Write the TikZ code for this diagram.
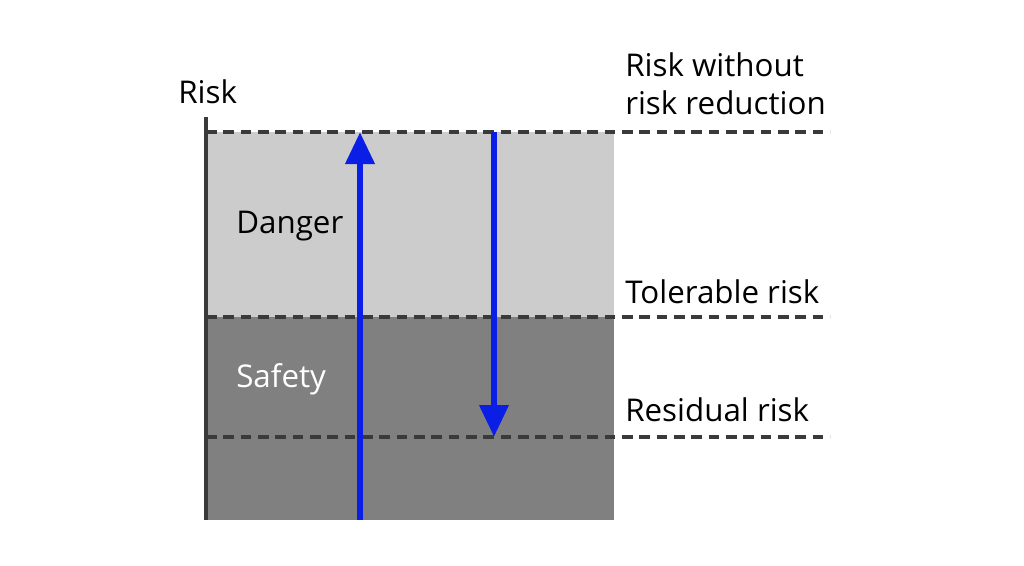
\documentclass[tikz,border=0pt]{standalone}
\usepackage{fontspec}
\setmainfont{Open Sans}
\usetikzlibrary{arrows.meta}
\definecolor{lightarea}{HTML}{CCCCCC}
\definecolor{darkarea}{HTML}{808080}
\definecolor{levelline}{HTML}{3A3A3A}
\definecolor{arrowblue}{HTML}{0A1EE6}
\begin{document}
\begin{tikzpicture} [x = 0.75pt, y = -0.75pt, font = \fontsize{23.5}{28.5}\selectfont,
  level/.style = {levelline, line width = 2.8pt, dash pattern = on 8pt off 5pt},
  reduce/.style = {arrowblue, line width = 5.2pt, -{Triangle[length = 24pt, width = 21pt]}},
  label/.style = {anchor = base west, inner sep = 0pt}]
\useasboundingbox (0,0) rectangle (1024,565);
\fill [lightarea] (206,132) rectangle (614,317);
\fill [darkarea] (206,317) rectangle (614,520);
\coordinate (top-l) at (206,132);
\coordinate (top-r) at (830,132);
\coordinate (tol-l) at (206,317);
\coordinate (tol-r) at (830,317);
\coordinate (res-l) at (206,437);
\coordinate (res-r) at (830,437);
\draw [level] (top-l) -- (top-r);
\draw [level] (tol-l) -- (tol-r);
\draw [level] (res-l) -- (res-r);
\coordinate (axis-b) at (206,520);
\coordinate (axis-t) at (206,117);
\draw [levelline, line width = 2.6pt] (axis-b) -- (axis-t);
\coordinate (up-b) at (360,520);
\coordinate (up-t) at (360,132);
\coordinate (down-t) at (494,132);
\coordinate (down-b) at (494,437);
\draw [reduce] (up-b) -- (up-t);
\draw [reduce] (down-t) -- (down-b);
\node [label] (risk) at (178,103) {Risk};
\node [label] (without) at (625,76) {Risk without};
\node [label] (reduction) at (625,114) {risk reduction};
\node [label] (danger) at (236,233) {Danger};
\node [label, white] (safety) at (236,387) {Safety};
\node [label] (tolerable) at (625,303) {Tolerable risk};
\node [label] (residual) at (625,421) {Residual risk};
\end{tikzpicture}
\end{document}
